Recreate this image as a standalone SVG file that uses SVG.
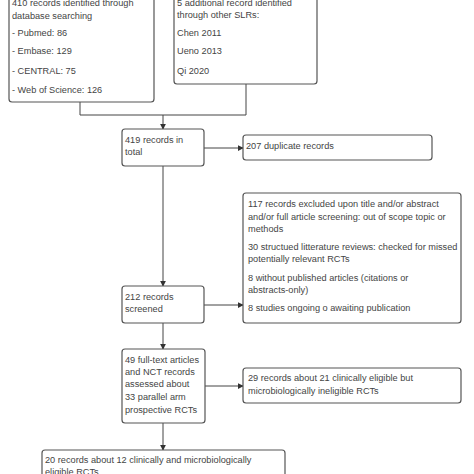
<svg xmlns="http://www.w3.org/2000/svg" width="474" height="474" viewBox="0 0 474 474">
<style>
.b{fill:#fff;stroke:#555;stroke-width:1.2}
.t{font-family:"Liberation Sans",Arial,sans-serif;font-size:9.2px;fill:#444}
.c{fill:none;stroke:#444;stroke-width:1}
</style>
<defs>
<marker id="a" viewBox="0 0 8 8" refX="7" refY="4" markerWidth="6" markerHeight="6" orient="auto" markerUnits="userSpaceOnUse">
<path d="M0,0 L8,4 L0,8 z" fill="#333"/>
</marker>
</defs>
<rect width="474" height="474" fill="#fff"/>
<g id="connectors">
<path class="c" d="M80,102 V115 H246 V84"/>
<path class="c" d="M163,115 V129" marker-end="url(#a)"/>
<path class="c" d="M204,148 H243" marker-end="url(#a)"/>
<path class="c" d="M163,166 V286" marker-end="url(#a)"/>
<path class="c" d="M204,305 H243" marker-end="url(#a)"/>
<path class="c" d="M163,323 V349" marker-end="url(#a)"/>
<path class="c" d="M205,386 H243" marker-end="url(#a)"/>
<path class="c" d="M163,423 V450" marker-end="url(#a)"/>
</g>
<g id="n1">
<rect class="b" x="9" y="-10" width="145" height="112" rx="3"/>
<text class="t" x="12" y="6">410 records identified through</text>
<text class="t" x="12" y="18.5">database searching</text>
<text class="t" x="12" y="35.5">- Pubmed: 86</text>
<text class="t" x="12" y="54">- Embase: 129</text>
<text class="t" x="12" y="74">- CENTRAL: 75</text>
<text class="t" x="12" y="92.5">- Web of Science: 126</text>
</g>
<g id="n2">
<rect class="b" x="174" y="-10" width="143" height="94" rx="3"/>
<text class="t" x="177" y="6">5 additional record identified</text>
<text class="t" x="177" y="17.5">through other SLRs:</text>
<text class="t" x="177" y="35.5">Chen 2011</text>
<text class="t" x="177" y="54">Ueno 2013</text>
<text class="t" x="177" y="74">Qi 2020</text>
</g>
<g id="n3">
<rect class="b" x="122" y="129" width="82" height="37" rx="3"/>
<text class="t" x="125" y="142.5">419 records in</text>
<text class="t" x="125" y="155">total</text>
</g>
<g id="n4">
<rect class="b" x="243" y="135" width="189" height="25" rx="3"/>
<text class="t" x="246" y="148.5">207 duplicate records</text>
</g>
<g id="n5">
<rect class="b" x="122" y="286" width="82" height="37" rx="3"/>
<text class="t" x="125" y="299.5">212 records</text>
<text class="t" x="125" y="311.5">screened</text>
</g>
<g id="n6">
<rect class="b" x="243" y="193" width="218" height="130" rx="3"/>
<text class="t" x="248" y="206.5">117 records excluded upon title and/or abstract</text>
<text class="t" x="248" y="220">and/or full article screening: out of scope topic or</text>
<text class="t" x="248" y="231.5">methods</text>
<text class="t" x="248" y="249.5">30 structued litterature reviews: checked for missed</text>
<text class="t" x="248" y="261.5">potentially relevant RCTs</text>
<text class="t" x="248" y="280.5">8 without published articles (citations or</text>
<text class="t" x="248" y="292.5">abstracts-only)</text>
<text class="t" x="248" y="311">8 studies ongoing o awaiting publication</text>
</g>
<g id="n7">
<rect class="b" x="122" y="349" width="83" height="74" rx="3"/>
<text class="t" x="125" y="362.5">49 full-text articles</text>
<text class="t" x="125" y="375">and NCT records</text>
<text class="t" x="125" y="387">assessed about</text>
<text class="t" x="125" y="399.5">33 parallel arm</text>
<text class="t" x="125" y="412.5">prospective RCTs</text>
</g>
<g id="n8">
<rect class="b" x="243" y="368" width="218" height="35" rx="3"/>
<text class="t" x="248" y="380.5">29 records about 21 clinically eligible but</text>
<text class="t" x="248" y="393.5">microbiologically ineligible RCTs</text>
</g>
<g id="n9">
<rect class="b" x="42" y="450" width="243" height="40" rx="3"/>
<text class="t" x="45" y="462.5">20 records about 12 clinically and microbiologically</text>
<text class="t" x="45" y="475">eligible RCTs</text>
</g>
</svg>
